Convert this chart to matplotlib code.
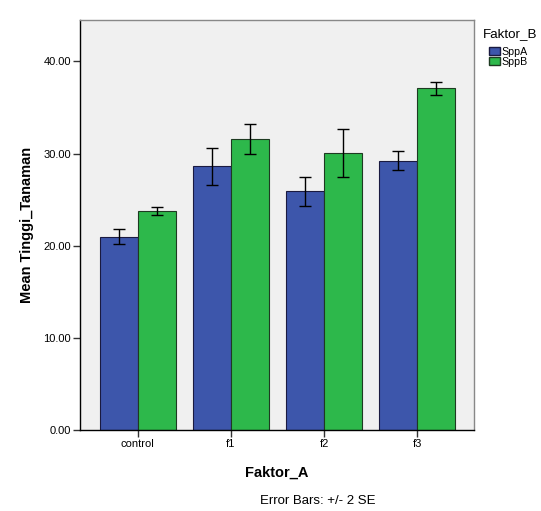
import numpy as np
import matplotlib.pyplot as plt
from matplotlib.patches import Patch

plt.rcParams['font.family'] = ['Liberation Sans', 'DejaVu Sans']

# data
faktor_a = ['control', 'f1', 'f2', 'f3']
sppA = [21.0, 28.6, 25.9, 29.25]
sppB = [23.75, 31.6, 30.07, 37.1]
sppA_err = [0.85, 2.0, 1.55, 1.05]
sppB_err = [0.42, 1.65, 2.6, 0.72]
y_ticks = [0, 10, 20, 30, 40]

blue = '#3D56AB'
green = '#2DB84B'

fig = plt.figure(figsize=(5.41, 5.11), dpi=100)
ax = fig.add_axes([80/541, 1 - 430/511, 394/541, 410/511])
ax.set_facecolor('#F0F0F0')

x = np.arange(len(faktor_a))
w = 0.407
ax.bar(x - w/2, sppA, w, color=blue, edgecolor='#1a1a40', linewidth=0.8)
ax.bar(x + w/2, sppB, w, color=green, edgecolor='#1e3a22', linewidth=0.8)
ax.errorbar(x - w/2, sppA, yerr=sppA_err, fmt='none', ecolor='black', elinewidth=1, capsize=4, capthick=1)
ax.errorbar(x + w/2, sppB, yerr=sppB_err, fmt='none', ecolor='black', elinewidth=1, capsize=4, capthick=1)

ax.set_xlim(-0.62, 3.61)
ax.set_ylim(0, 44.5)
ax.set_yticks(y_ticks)
ax.set_yticklabels([f'{v:.2f}' for v in y_ticks], fontsize=8)
ax.set_xticks(x)
ax.set_xticklabels(faktor_a, fontsize=8)
ax.tick_params(axis='both', direction='out', length=5, width=1, color='#333333', pad=1.5)

for s in ['left', 'bottom']:
    ax.spines[s].set_color('black')
    ax.spines[s].set_linewidth(1)
for s in ['top', 'right']:
    ax.spines[s].set_color('#888888')
    ax.spines[s].set_linewidth(1)

ax.set_ylabel('Mean Tinggi_Tanaman', fontsize=10.5, fontweight='bold', labelpad=7)
ax.set_xlabel('Faktor_A', fontsize=10.5, fontweight='bold', labelpad=12)

fig.text(318/541, 1 - 501/511, 'Error Bars: +/- 2 SE', fontsize=9.5, ha='center', va='center')

# legend
fig.text(483/541, 1 - 34/511, 'Faktor_B', fontsize=9.6, ha='left', va='center')
handles = [Patch(facecolor=blue, edgecolor='#1a1a40', label='SppA'),
           Patch(facecolor=green, edgecolor='#1e3a22', label='SppB')]
fig.legend(handles=handles, loc='upper left', bbox_to_anchor=(489/541, 1 - 47/511),
           frameon=False, fontsize=7.7, handlelength=1.05, handleheight=0.8,
           handletextpad=0.1, borderpad=0, labelspacing=0.0, borderaxespad=0)

fig.savefig('out.png', dpi=100)
